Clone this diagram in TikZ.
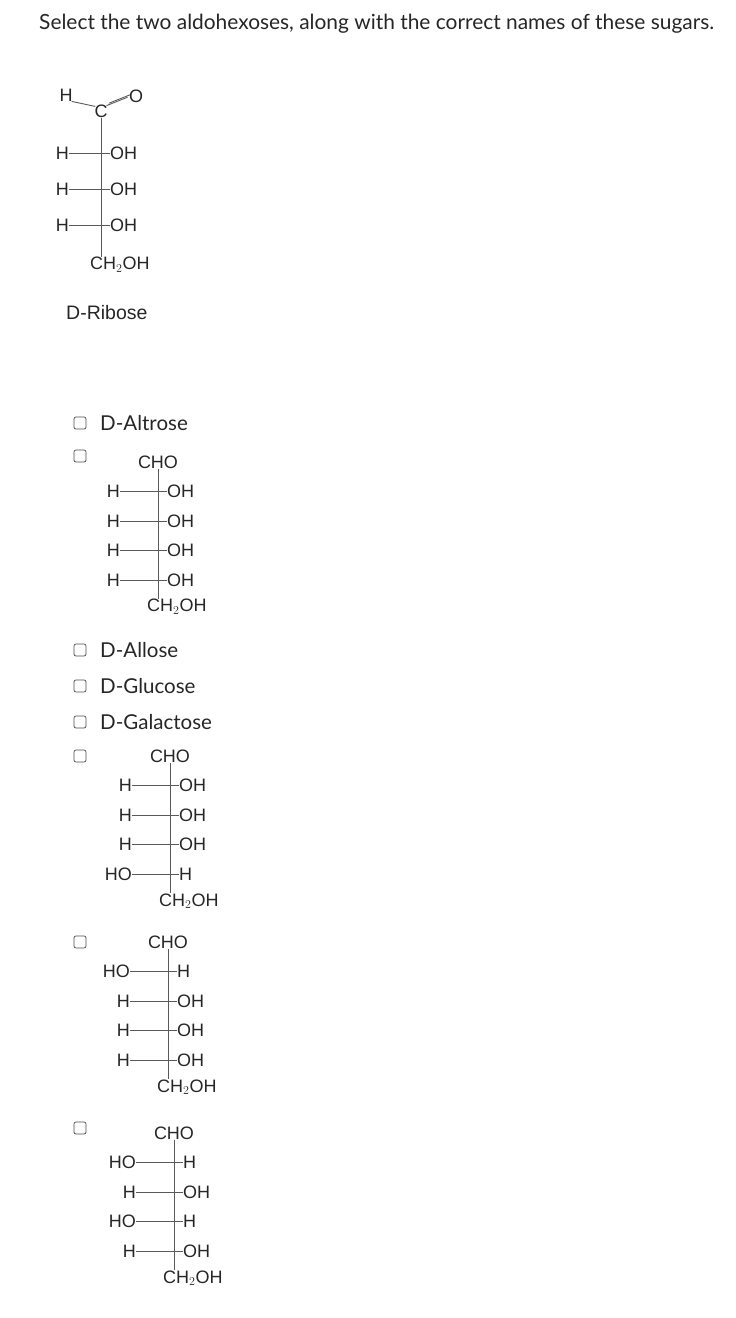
\documentclass[tikz,border=0pt]{standalone}
\usepackage{fontspec}
\setmainfont{Lato}
\newfontfamily\chem{Liberation Sans}
\begin{document}
\begin{tikzpicture}[x=1pt,y=-1pt,
  bond/.style={draw=black!65,line width=0.9pt},
  lab/.style={font=\chem\fontsize{18}{18}\selectfont,inner sep=0pt,text=black!85},
  opt/.style={font=\fontsize{20.5}{20.5}\selectfont,anchor=west,inner sep=0pt,text=black!85},
  cbox/.style={draw=black!70,rounded corners=2pt,minimum size=12pt,inner sep=0pt,line width=0.7pt}]
\useasboundingbox (0,0) rectangle (736,1318);
\node[anchor=west,inner sep=0pt,font=\fontsize{20.9}{21}\selectfont,text=black!85] (title) at (39,24) {Select the two aldohexoses, along with the correct names of these sugars.};
% D-Ribose
\node[lab] (rh) at (66,95) {H};
\node[lab] (rc) at (101,111) {C};
\node[lab] (ro) at (136,96) {O};
\draw[bond] ([xshift=-1pt]rh.south east) -- ([xshift=1pt,yshift=-2pt]rc.north west);
\draw[bond] ([xshift=-1.2pt,yshift=-1.2pt]rc.north east) -- ([xshift=-1.2pt,yshift=-1.2pt]ro.west);
\draw[bond] ([xshift=1.2pt,yshift=1.2pt]rc.north east) -- ([xshift=1.2pt,yshift=1.2pt]ro.west);
\foreach \yy [count=\i] in {153,189,225}{
  \node[lab,anchor=east] (rl\i) at (69,\yy) {H};
  \node[lab,anchor=west] (rr\i) at (110,\yy) {OH};
  \draw[bond] (rl\i.east) -- (rr\i.west);
}
\node[lab,anchor=west] (rb) at (90,265) {CH$_2$OH};
\draw[bond] (rc.south) -- ([xshift=11pt]rb.north west);
\node[anchor=west,inner sep=0pt,font=\chem\fontsize{19.5}{20}\selectfont,text=black!85] (rname) at (66,313) {D-Ribose};
% options
\node[cbox] (c1) at (80,423) {}; \node[opt] (o1) at (100,423) {D-Altrose};
\node[cbox] (c2) at (80,456) {};
\node[cbox] (c3) at (80,650) {}; \node[opt] (o3) at (100,650) {D-Allose};
\node[cbox] (c4) at (80,686) {}; \node[opt] (o4) at (100,686) {D-Glucose};
\node[cbox] (c5) at (80,722) {}; \node[opt] (o5) at (100,722) {D-Galactose};
\node[cbox] (c6) at (80,756) {};
\node[cbox] (c7) at (80,942) {};
\node[cbox] (c8) at (80,1128) {};
% Fischer macro
\newcommand{\myfischer}[4]{% cx, topy, name, list of left/right
  \node[lab] (#3t) at (#1,#2) {CHO};
  \foreach \L/\R [count=\i] in {#4}{
    \node[lab,anchor=east] (#3l\i) at ({#1-38},{#2+29.5*\i}) {\L};
    \node[lab,anchor=west] (#3r\i) at ({#1+9},{#2+29.5*\i}) {\R};
    \draw[bond] (#3l\i.east) -- (#3r\i.west);
  }
  \node[lab,anchor=west] (#3b) at ({#1-11},{#2+145}) {CH$_2$OH};
  \draw[bond] (#3t.south) -- ([xshift=11pt]#3b.north west);
}
\myfischer{158}{462}{fa}{H/OH,H/OH,H/OH,H/OH}
\myfischer{170}{756}{fb}{H/OH,H/OH,H/OH,HO/H}
\myfischer{168}{942}{fc}{HO/H,H/OH,H/OH,H/OH}
\myfischer{174}{1133}{fd}{HO/H,H/OH,HO/H,H/OH}
\end{tikzpicture}
\end{document}
